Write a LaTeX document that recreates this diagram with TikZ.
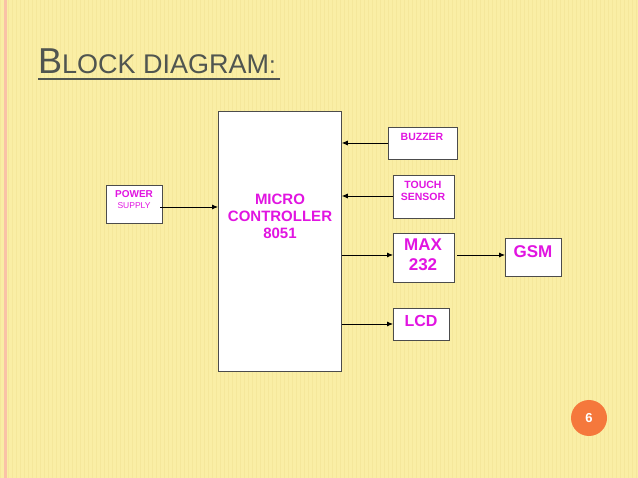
\documentclass[tikz,border=0pt]{standalone}
\usepackage{fontspec}
\setmainfont{Liberation Sans}
\usetikzlibrary{arrows.meta}
\definecolor{bg}{RGB}{250,238,165}
\definecolor{stripe}{RGB}{245,231,155}
\definecolor{mag}{RGB}{225,20,225}
\definecolor{ttl}{RGB}{80,85,80}
\definecolor{orng}{RGB}{245,120,60}
\begin{document}
\begin{tikzpicture}[x=1pt,y=-1pt,
  blk/.style={draw=black!70,fill=white,line width=0.8pt,inner sep=0pt,anchor=north west},
  lbl/.style={text=mag,font=\bfseries,inner sep=0pt,anchor=center},
  arr/.style={-{Latex[length=6pt,width=5pt]},line width=0.8pt}]
\useasboundingbox (0,0) rectangle (638,478);
\fill[bg] (0,0) rectangle (638,478);
\foreach \i in {0,4,...,636} \draw[stripe,line width=0.6pt] (\i,0) -- (\i,478);
\fill[orng!45] (4,0) rectangle (7,478);
\node[anchor=base west,text=ttl,inner sep=0pt] (title) at (38,74) {\fontsize{36}{40}\selectfont B\fontsize{27}{30}\selectfont LOCK DIAGRAM\fontsize{24}{26}\selectfont :};
\draw[ttl,line width=1.5pt] (38,79) -- (280,79);
\node[blk,minimum width=123,minimum height=260] (mc) at (218,111) {};
\node[lbl,font=\bfseries\fontsize{15}{17}\selectfont,align=center] (mct) at (280,216) {MICRO\\CONTROLLER\\8051};
\node[blk,minimum width=69,minimum height=32] (bz) at (388,127) {};
\node[lbl,font=\bfseries\fontsize{10.5}{12}\selectfont] (bzt) at (422,137) {BUZZER};
\node[blk,minimum width=61,minimum height=43] (ts) at (393,175) {};
\node[lbl,font=\bfseries\fontsize{10.5}{12}\selectfont,align=center] (tst) at (423,191) {TOUCH\\SENSOR};
\node[blk,minimum width=61,minimum height=49] (mx) at (393,233) {};
\node[lbl,font=\bfseries\fontsize{17}{20}\selectfont,align=center] (mxt) at (423,255) {MAX\\232};
\node[blk,minimum width=56,minimum height=38] (gsm) at (505,238) {};
\node[lbl,font=\bfseries\fontsize{17}{19}\selectfont] (gsmt) at (533,252) {GSM};
\node[blk,minimum width=56,minimum height=32] (lcd) at (393,308) {};
\node[lbl,font=\bfseries\fontsize{16}{18}\selectfont] (lcdt) at (421,321) {LCD};
\node[blk,minimum width=56,minimum height=38] (pw) at (106,185) {};
\node[lbl,font=\fontsize{8.5}{11}\selectfont,align=center] (pwt) at (134,200) {\textbf{\fontsize{10}{11}\selectfont POWER}\\SUPPLY};
\draw[arr] (bz.west |- 0,143) -- (mc.east |- 0,143);
\draw[arr] (ts.west |- 0,196) -- (mc.east |- 0,196);
\draw[arr] (mc.east |- 0,255) -- (mx.west |- 0,255);
\draw[arr] (457,255) -- (gsm.west |- 0,255);
\draw[arr] (mc.east |- 0,324) -- (lcd.west |- 0,324);
\draw[arr] (160,207) -- (mc.west |- 0,207);
\node[circle,fill=orng,minimum size=36,inner sep=0pt,text=white,font=\bfseries\fontsize{13}{15}\selectfont] (pg) at (589,418) {6};
\end{tikzpicture}
\end{document}
